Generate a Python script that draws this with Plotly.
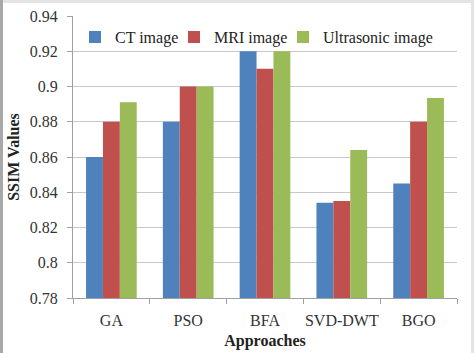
import plotly.graph_objects as go

categories = ["GA", "PSO", "BFA", "SVD-DWT", "BGO"]
ct_image = [0.860, 0.880, 0.920, 0.834, 0.845]
mri_image = [0.880, 0.900, 0.910, 0.835, 0.880]
ultrasonic_image = [0.891, 0.900, 0.920, 0.864, 0.8935]
series_names = ["CT image", "MRI image", "Ultrasonic image"]
colors = ["#4F81BD", "#C0504D", "#9BBB59"]
legend_widths = [54, 64, 115]
y_ticks = [0.78, 0.80, 0.82, 0.84, 0.86, 0.88, 0.90, 0.92, 0.94]
y_tick_labels = ["0.78", "0.8", "0.82", "0.84", "0.86", "0.88", "0.9", "0.92", "0.94"]

W, H = 474, 353
L, R, T, B = 73, 17, 16, 55
pw, ph = W - L - R, H - T - B

def px(x):
    return (x - L) / pw

def py(y):
    return (H - B - y) / ph

fig = go.Figure()
for name, vals, c, lw in zip(series_names, [ct_image, mri_image, ultrasonic_image], colors, legend_widths):
    fig.add_trace(go.Bar(x=categories, y=[v - 0.78 for v in vals], base=0.78,
                         name=name, legendwidth=lw, marker=dict(color=c, line=dict(width=0))))

font_family = "Times New Roman"
fig.update_layout(
    width=W, height=H,
    margin=dict(l=L, r=R, t=T, b=B, autoexpand=False),
    paper_bgcolor="white", plot_bgcolor="white",
    barmode="group", bargap=0.34, bargroupgap=0,
    font=dict(family=font_family, size=16, color="#333333"),
    showlegend=True,
    legend=dict(orientation="h", x=px(75), xanchor="left", y=0.925, yanchor="middle",
                font=dict(family=font_family, size=16, color="#222222"), bgcolor="rgba(0,0,0,0)",
                itemwidth=30, traceorder="normal"),
    xaxis=dict(showline=True, linecolor="#a0a0a0", linewidth=1, automargin=False,
               ticks="outside", tickson="boundaries", ticklen=5, tickcolor="#a0a0a0",
               tickangle=0, ticklabelstandoff=8,
               tickfont=dict(family=font_family, size=16, color="#333333"),
               title=dict(text="<b>Approaches</b>", font=dict(family=font_family, size=16, color="#222222"), standoff=6)),
    yaxis=dict(range=[0.78, 0.94], tickvals=y_ticks, ticktext=y_tick_labels, automargin=False,
               showline=True, linecolor="#a0a0a0", linewidth=1,
               ticks="outside", ticklen=5, tickcolor="#a0a0a0", ticklabelstandoff=6,
               showgrid=True, gridcolor="#c8c8c8", gridwidth=1,
               tickfont=dict(family=font_family, size=16, color="#333333"),
               title=dict(text="<b>SSIM Values</b>", font=dict(family=font_family, size=16, color="#222222"), standoff=6)),
)

# image frame
fig.add_shape(type="rect", xref="paper", yref="paper", x0=px(0), x1=px(3), y0=py(H), y1=py(0),
              fillcolor="#a8a8a8", line=dict(width=0), layer="above")
fig.add_shape(type="rect", xref="paper", yref="paper", x0=px(3), x1=px(W), y0=py(3), y1=py(0),
              fillcolor="#e4e4e4", line=dict(width=0), layer="above")
fig.add_shape(type="rect", xref="paper", yref="paper", x0=px(W - 3), x1=px(W), y0=py(H), y1=py(0),
              fillcolor="#e4e4e4", line=dict(width=0), layer="above")

fig.write_html("out.html")
